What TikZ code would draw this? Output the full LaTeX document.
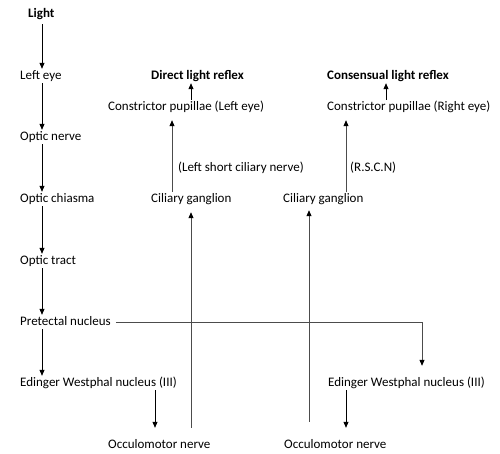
\documentclass[tikz,border=0pt]{standalone}
\usepackage{fontspec}
\setmainfont{Carlito}
\usetikzlibrary{arrows.meta}

\tikzset{
  lbl/.style={anchor=west,inner xsep=0pt,inner ysep=1pt,text height=9pt,text depth=3pt,font=\fontsize{13}{15}\selectfont},
  ttl/.style={lbl,font=\fontsize{13}{15}\selectfont\bfseries},
  flow/.style={-{Triangle[width=5pt,length=6pt,color=black]},line width=0.8pt},
  wire/.style={line width=0.8pt,draw=black!70}
}

\begin{document}
\begin{tikzpicture}[x=1pt,y=-1pt]
\useasboundingbox (0,0) rectangle (500,453);
% pathway down the left side
\coordinate (spine) at (42,0);
\node[ttl] (light) at (28,14) {Light};
\node[lbl] (leye) at (20,76) {Left eye};
\node[lbl] (onerve) at (20,137) {Optic nerve};
\node[lbl] (ochiasma) at (20,199) {Optic chiasma};
\node[lbl] (otract) at (20,261) {Optic tract};
\node[lbl] (pretectal) at (20,322) {Pretectal nucleus};
\node[lbl] (lew) at (20,383) {Edinger Westphal nucleus (III)};
\node[lbl] (lom) at (108,445) {Occulomotor nerve};

% left eye reflex
\node[lbl] (lcg) at (151,199) {Ciliary ganglion};
\node[lbl] (lscn) at (178,168) {(Left short ciliary nerve)};
\node[lbl] (lcp) at (108,107) {Constrictor pupillae (Left eye)};
\node[ttl] (direct) at (151,76) {Direct light reflex};

% right eye reflex
\node[lbl] (rew) at (328,383) {Edinger Westphal nucleus (III)};
\node[lbl] (rom) at (284,445) {Occulomotor nerve};
\node[lbl] (rcg) at (283,199) {Ciliary ganglion};
\node[lbl] (rscn) at (350,168) {(R.S.C.N)};
\node[lbl] (rcp) at (327,107) {Constrictor pupillae (Right eye)};
\node[ttl] (consensual) at (327,76) {Consensual light reflex};

\coordinate (turn) at (422,0);

\draw[flow,shorten <=3pt] (light.south -| spine) -- (leye.north -| spine);
\foreach \a/\b in {leye/onerve,onerve/ochiasma,ochiasma/otract,otract/pretectal,pretectal/lew}
  \draw[flow] (\a.south -| spine) -- (\b.north -| spine);

\draw[flow,shorten >=10pt] (lew.south -| 155,0) -- (lom.north -| 155,0);
\draw[flow,wire,shorten <=10pt,shorten >=6pt] (lom.north -| 191,0) -- (lcg.south -| 191,0);
\draw[flow,wire,shorten >=6pt] (lcg.north -| 172,0) -- (lcp.south -| 172,0);
\draw[flow] (lcp.north -| 191,0) -- (direct.south -| 191,0);

\draw[wire,shorten <=5pt] (pretectal.east) -- (pretectal.east -| turn);
\draw[flow,wire,shorten >=10pt] (pretectal.east -| turn) -- (rew.north -| turn);
\draw[flow,shorten >=10pt] (rew.south -| 346,0) -- (rom.north -| 346,0);
\draw[flow,wire,shorten <=16pt,shorten >=4pt] (rom.north -| 309,0) -- (rcg.south -| 309,0);
\draw[flow,wire,shorten >=6pt] (rcg.north -| 346,0) -- (rcp.south -| 346,0);
\draw[flow] (rcp.north -| 386,0) -- (consensual.south -| 386,0);
\end{tikzpicture}
\end{document}
